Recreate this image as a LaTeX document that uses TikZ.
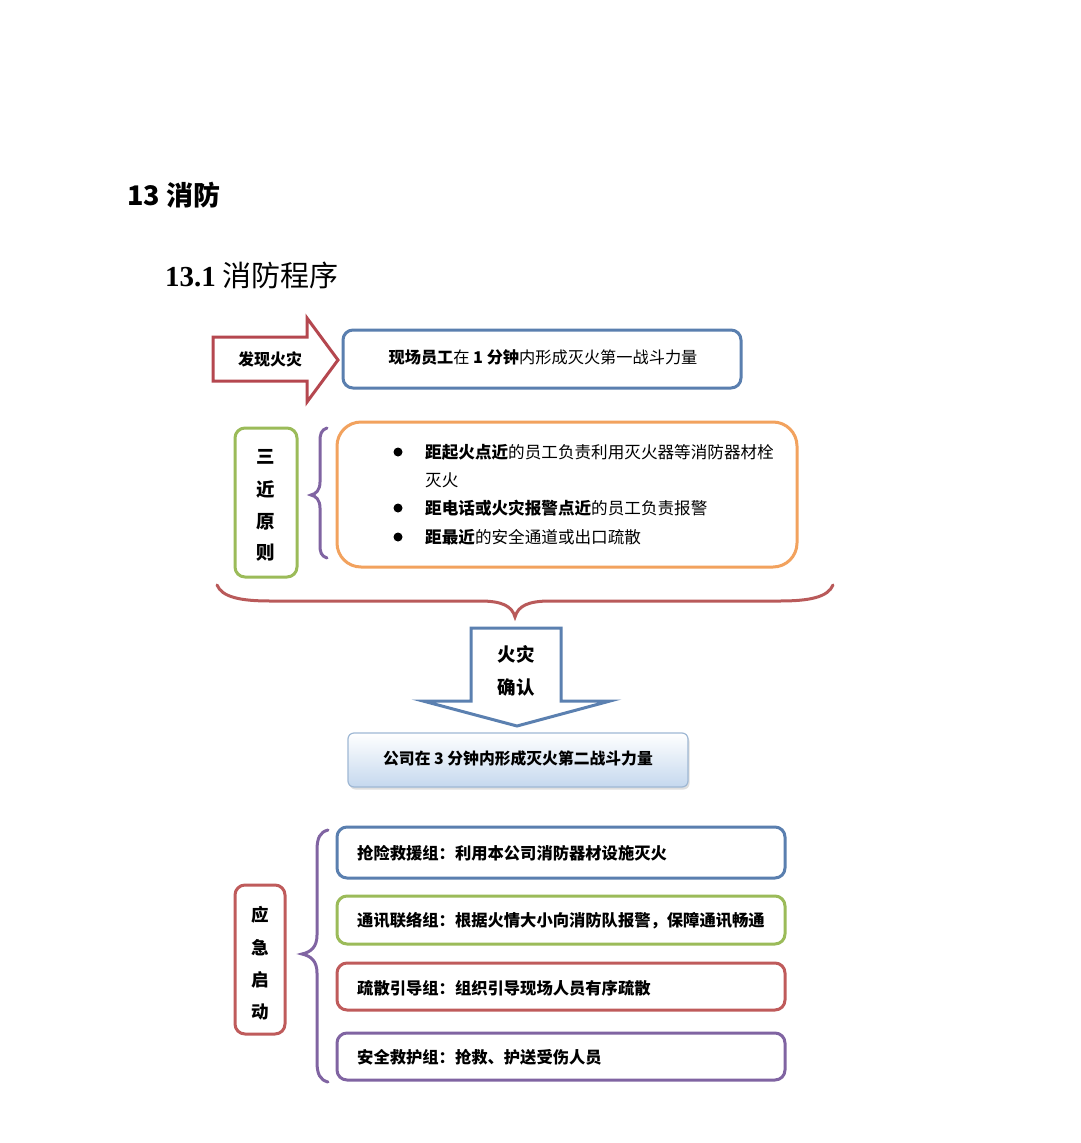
\documentclass[tikz,border=0pt]{standalone}
\usepackage{fontspec}
\setmainfont{Noto Sans CJK SC}
\newfontfamily\tnr{Liberation Serif}
\usetikzlibrary{shadows}
\definecolor{blueC}{HTML}{5A7FAF}
\definecolor{greenC}{HTML}{9BBB59}
\definecolor{redC}{HTML}{BF5B5B}
\definecolor{arrowRed}{HTML}{B5474F}
\definecolor{purpleC}{HTML}{8064A2}
\definecolor{orangeC}{HTML}{F2A25E}
\definecolor{braceRed}{HTML}{B95A5A}
\definecolor{arrowBlue}{HTML}{5B80B0}
\definecolor{gbBlue}{HTML}{C5D8EE}
\definecolor{gbBorder}{HTML}{9FB8D4}
\begin{document}
\begin{tikzpicture}[x=1pt,y=-1pt,
  rbox/.style={draw, line width=3pt, rounded corners=10pt, fill=white, inner sep=0pt},
  txt/.style={font=\fontsize{16}{19}\selectfont, inner sep=0pt},
  btxt/.style={font=\fontsize{16.3}{19}\selectfont\bfseries, inner sep=0pt},
  vtxt/.style={font=\fontsize{18.5}{20}\selectfont\bfseries, inner sep=0pt},
  brace/.style={line width=3pt, line cap=round},
  bul/.style={circle, fill=black, inner sep=0pt, minimum size=9pt}
]
\useasboundingbox (0,0) rectangle (1080,1143);
\fill[white] (0,0) rectangle (1080,1143);

% titles
\node[anchor=west, inner sep=0pt, font=\fontsize{27}{30}\selectfont\bfseries] (t1) at (127,195) {13 消防};
\node[anchor=west, inner sep=0pt, font=\fontsize{29}{31}\selectfont] (t2) at (165,275) {{\tnr\bfseries 13.1} 消防程序};

% arrow 1
\draw[line width=3pt, draw=arrowRed, fill=white, line join=miter]
  (213,337) -- (307,337) -- (307,318) -- (338,360) -- (307,402) -- (307,381) -- (213,381) -- cycle;
\node[btxt, font=\fontsize{16}{19}\selectfont\bfseries] (a1) at (270,359) {发现火灾};

% box 1
\node[rbox, draw=blueC, minimum width=398pt, minimum height=58pt] (first) at (542,359) {};
\node[txt, font=\fontsize{16.2}{19}\selectfont] (first-t) at (543,357) {{\bfseries 现场员工}在 {\bfseries 1 分钟}内形成灭火第一战斗力量};

% three-near principle
\node[rbox, draw=greenC, minimum width=62pt, minimum height=149pt] (sj) at (266,502.5) {};
\node[vtxt] (sj1) at (266,457) {三};
\node[vtxt] (sj2) at (266,490) {近};
\node[vtxt] (sj3) at (266,522) {原};
\node[vtxt] (sj4) at (266,553) {则};

\draw[brace, purpleC] (327,428) .. controls (321,430) and (320,434) .. (320,442) -- (320,482)
  .. controls (320,490) and (316,494) .. (311,495) .. controls (316,496) and (320,500) .. (320,508)
  -- (320,545) .. controls (320,552) and (321,556) .. (327,558);

\node[rbox, draw=orangeC, rounded corners=24pt, minimum width=460pt, minimum height=145pt] (ob) at (567,494.5) {};
\node[bul] (b1) at (398,452) {};
\node[bul] (b2) at (398,508) {};
\node[bul] (b3) at (398,537) {};
\node[txt, anchor=west, font=\fontsize{16.6}{19}\selectfont] (l1) at (425,452) {{\bfseries 距起火点近}的员工负责利用灭火器等消防器材栓};
\node[txt, anchor=west, font=\fontsize{16.6}{19}\selectfont] (l1b) at (425,480) {灭火};
\node[txt, anchor=west, font=\fontsize{16.6}{19}\selectfont] (l2) at (425,508) {{\bfseries 距电话或火灾报警点近}的员工负责报警};
\node[txt, anchor=west, font=\fontsize{16.6}{19}\selectfont] (l3) at (425,537) {{\bfseries 距最近}的安全通道或出口疏散};

% big brace
\draw[brace, braceRed] (217,585) .. controls (222,597) and (240,601) .. (270,601) -- (480,601)
  .. controls (502,601) and (512,606) .. (515,617) .. controls (518,606) and (528,601) .. (550,601)
  -- (780,601) .. controls (810,601) and (828,597) .. (833,585);

% arrow 2
\draw[line width=3pt, draw=arrowBlue, fill=white, line join=miter]
  (471,628) -- (561,628) -- (561,701) -- (610,701) -- (517,726) -- (423,701) -- (471,701) -- cycle;
\node[vtxt] (a2a) at (516,654) {火灾};
\node[vtxt] (a2b) at (516,687) {确认};

% box 2
\node[draw=gbBorder, line width=1.2pt, rounded corners=6pt, top color=white, bottom color=gbBlue,
  minimum width=340pt, minimum height=54pt, inner sep=0pt,
  drop shadow={opacity=0.25, shadow xshift=1.5pt, shadow yshift=-2.5pt}] (second) at (518,760) {};
\node[btxt, font=\fontsize{15.8}{18}\selectfont\bfseries] (second-t) at (518,758) {公司在 3 分钟内形成灭火第二战斗力量};

% emergency start
\node[rbox, draw=redC, minimum width=50pt, minimum height=149pt] (yj) at (260,959.5) {};
\node[vtxt, font=\fontsize{17.5}{20}\selectfont\bfseries] (yj1) at (260,915) {应};
\node[vtxt, font=\fontsize{17.5}{20}\selectfont\bfseries] (yj2) at (260,948) {急};
\node[vtxt, font=\fontsize{17.5}{20}\selectfont\bfseries] (yj3) at (260,980) {启};
\node[vtxt, font=\fontsize{17.5}{20}\selectfont\bfseries] (yj4) at (260,1012) {动};

\draw[brace, purpleC] (328,830) .. controls (320,832) and (317,838) .. (317,850) -- (317,935)
  .. controls (317,947) and (311,952) .. (302,954) .. controls (311,956) and (317,961) .. (317,973)
  -- (317,1062) .. controls (317,1074) and (320,1080) .. (328,1082);

\node[rbox, draw=blueC, minimum width=448pt, minimum height=51pt] (ga) at (561,852.5) {};
\node[rbox, draw=greenC, minimum width=448pt, minimum height=48pt] (gb) at (561,920) {};
\node[rbox, draw=redC, minimum width=448pt, minimum height=47pt] (gc) at (561,986.5) {};
\node[rbox, draw=purpleC, minimum width=448pt, minimum height=47pt] (gd) at (561,1056.5) {};
\node[btxt, anchor=west] (gat) at (357,853) {抢险救援组：利用本公司消防器材设施灭火};
\node[btxt, anchor=west] (gbt) at (357,921) {通讯联络组：根据火情大小向消防队报警，保障通讯畅通};
\node[btxt, anchor=west] (gct) at (357,988) {疏散引导组：组织引导现场人员有序疏散};
\node[btxt, anchor=west] (gdt) at (357,1057) {安全救护组：抢救、护送受伤人员};
\end{tikzpicture}
\end{document}
